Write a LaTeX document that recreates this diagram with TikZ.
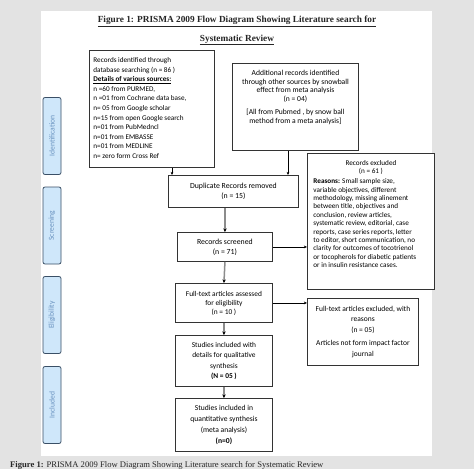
\documentclass[tikz,border=0pt]{standalone}
\usepackage{fontspec}
\setmainfont{Liberation Serif}
\newfontfamily\calfont{Carlito}
\usetikzlibrary{arrows.meta}
\definecolor{bgc}{HTML}{E3E3E3}
\definecolor{boxc}{HTML}{333333}
\definecolor{sidefill}{HTML}{CFE7FA}
\definecolor{sidedraw}{HTML}{3A4F66}
\definecolor{sidetext}{HTML}{6A93C0}
\definecolor{linkc}{HTML}{8C8C8C}
\tikzset{
  box/.style={draw=boxc, line width=0.9pt, fill=white, inner sep=0pt, align=center},
  sidebox/.style={draw=sidedraw, line width=0.8pt, fill=sidefill, rounded corners=2pt,
    rotate=90, minimum width=77pt, minimum height=18pt, inner sep=0pt,
    text=sidetext, font=\calfont\fontsize{7.6}{8}\selectfont},
  arr/.style={line width=0.7pt, draw=black, -{Stealth[length=3.2pt,width=2.8pt]}},
  garr/.style={line width=1.5pt, draw=linkc, -{Stealth[length=3.6pt,width=3.4pt,color=black]}},
  ttl/.style={font=\fontsize{9.3}{10}\selectfont\bfseries, text=black!85, inner sep=0pt}
}
\begin{document}
\begin{tikzpicture}[x=1pt,y=-1pt]
\useasboundingbox (0,0) rectangle (474,469);
\fill[bgc] (0,0) rectangle (474,469);
\fill[white] (41,11) rectangle (432,456);

\node[ttl] (t1) at (237,21) {\underline{Figure 1: PRISMA 2009 Flow Diagram Showing Literature search for}};
\node[ttl] (t2) at (237,40) {\underline{Systematic Review}};

% side labels
\node[sidebox] (s1) at (52,136) {Identification};
\node[sidebox] (s2) at (52,225.5) {Screening};
\node[sidebox] (s3) at (52,315) {Eligibility};
\node[sidebox] (s4) at (52,405) {Included};

% records identified
\node[box, anchor=north west, inner xsep=4pt] (recs) at (89,50)
 {\parbox[t][117pt][t]{117pt}{\calfont\fontsize{7.2}{9.6}\selectfont\raggedright
 \vspace*{5.3pt}\strut Records identified through\\
 database searching (n = 86 )\\
 \textbf{\underline{Details of various sources:}}\\
 n =60 from PURMED,\\
 n =01 from Cochrane data base,\\
 n= 05 from Google scholar\\
 n=15 from open Google search\\
 n=01 from PubMedncl\\
 n=01 from EMBASSE\\
 n=01 from MEDLINE\\
 n= zero form Cross Ref}};

% additional records
\node[box, anchor=north west] (addl) at (232,63)
 {\parbox[t][87pt][t]{126pt}{\calfont\fontsize{7.6}{8.6}\selectfont\centering
 \vspace*{6pt}\strut Additional records identified\\
 through other sources by snowball\\
 effect from meta analysis\\
 (n = 04)\\[5pt]
 [All from Pubmed , by snow ball\\
 method from a meta analysis]}};

% duplicates
\node[box, anchor=north west, minimum width=130pt, minimum height=32pt,
  font=\calfont\fontsize{7.8}{10}\selectfont] (dup) at (168,175)
 {Duplicate Records removed\\(n = 15)};

% records excluded
\node[box, anchor=north west, inner xsep=6pt] (excl) at (307,153)
 {\parbox[t][136pt][t]{115pt}{\calfont\fontsize{7.2}{8.4}\selectfont
 \vspace*{6.1pt}{\centering\strut Records excluded\\(n = 61 )\par}\vspace{1.4pt}
 \raggedright\textbf{Reasons:} Small sample size,\\
 variable objectives, different\\
 methodology, missing alinement\\
 between title, objectives and\\
 conclusion, review articles,\\
 systematic review, editorial, case\\
 reports, case series reports, letter\\
 to editor, short communication, no\\
 clarity for outcomes of tocotrienol\\
 or tocopherols for diabetic patients\\
 or in insulin resistance cases.}};

% screened
\node[box, anchor=north west, minimum width=95pt, minimum height=29pt,
  font=\calfont\fontsize{7.8}{10}\selectfont] (scr) at (177,232)
 {Records screened\\(n = 71)};

% full text assessed
\node[box, anchor=north west, minimum width=97pt, minimum height=39pt,
  font=\calfont\fontsize{7.4}{9}\selectfont] (fta) at (175,283)
 {Full-text articles assessed\\for eligibility\\(n = 10 )};

% full text excluded
\node[box, anchor=north west, minimum width=111pt, minimum height=67pt,
  font=\calfont\fontsize{7.5}{10.5}\selectfont] (fte) at (307,298)
 {Full-text articles excluded, with\\reasons\\(n = 05)\\[3pt]Articles not form impact factor\\journal};

% qualitative
\node[box, anchor=north west, minimum width=97pt, minimum height=51pt,
  font=\calfont\fontsize{7.4}{10.6}\selectfont] (qual) at (175,335)
 {Studies included with\\details for qualitative\\synthesis\\\textbf{(N = 05 )}};

% quantitative
\node[box, anchor=north west, minimum width=97pt, minimum height=53pt,
  font=\calfont\fontsize{7.6}{11.2}\selectfont] (quant) at (175,398)
 {Studies included in\\quantitative synthesis\\(meta analysis)\\\textbf{(n=0)}};

% connectors
\coordinate (ax) at (172,0);
\coordinate (bx) at (288,0);
\draw[arr] (ax |- recs.south) -- (ax |- dup.north);
\draw[arr] (bx |- addl.south) -- (bx |- dup.north);
\draw[garr] (scr.north |- dup.south) -- (scr.north);
\draw[garr] (scr.south) -- (fta.north);
\draw[garr] (fta.south) -- (qual.north);
\draw[garr] (qual.south) -- (quant.north);
\draw[arr] (scr.east) -- (scr.east -| excl.west);
\draw[arr] (fta.east) -- (fta.east -| fte.west);

% bottom caption
\node[anchor=base west, inner sep=0pt, font=\fontsize{8.6}{10}\selectfont, text=black!85] (cap) at (10,467.5)
 {\textbf{Figure 1:} PRISMA 2009 Flow Diagram Showing Literature search for Systematic Review};
\end{tikzpicture}
\end{document}
